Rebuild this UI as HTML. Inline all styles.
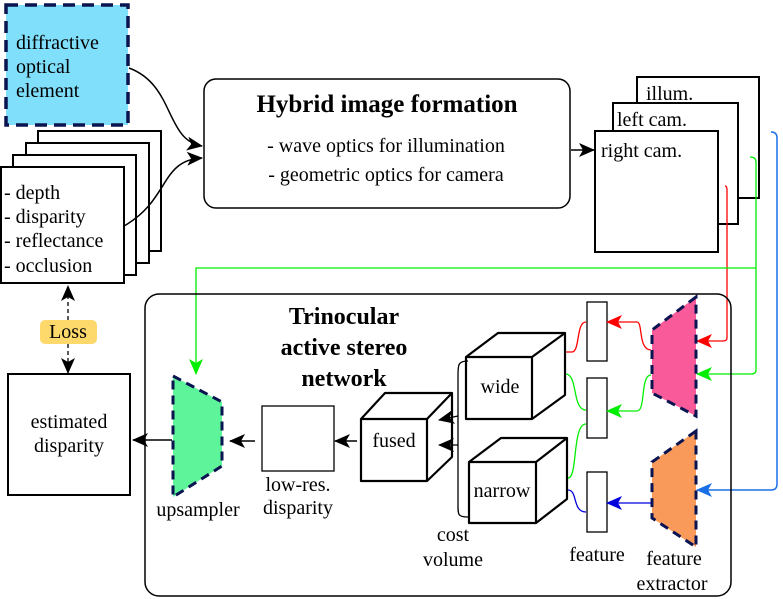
<!DOCTYPE html>
<html><head><meta charset="utf-8"><style>
html,body{margin:0;padding:0;background:#fff;}
svg{display:block;}
svg text{font-family:"Liberation Serif","DejaVu Serif",serif;}
</style></head><body>
<svg width="783" height="599" viewBox="0 0 783 599" xmlns="http://www.w3.org/2000/svg" font-family="Liberation Serif, DejaVu Serif, serif">
<defs>
<marker id="ak" markerWidth="16" markerHeight="14" refX="15" refY="7" orient="auto" markerUnits="userSpaceOnUse"><path d="M0,0 L16,7 L0,14 L4,7 Z" fill="#000"/></marker>
<marker id="ar" markerWidth="16" markerHeight="14" refX="15" refY="7" orient="auto" markerUnits="userSpaceOnUse"><path d="M0,0 L16,7 L0,14 L4,7 Z" fill="#f00"/></marker>
<marker id="ag" markerWidth="16" markerHeight="14" refX="15" refY="7" orient="auto" markerUnits="userSpaceOnUse"><path d="M0,0 L16,7 L0,14 L4,7 Z" fill="#0e0"/></marker>
<marker id="ab" markerWidth="16" markerHeight="14" refX="15" refY="7" orient="auto" markerUnits="userSpaceOnUse"><path d="M0,0 L16,7 L0,14 L4,7 Z" fill="#00d"/></marker>
<marker id="al" markerWidth="16" markerHeight="14" refX="15" refY="7" orient="auto" markerUnits="userSpaceOnUse"><path d="M0,0 L16,7 L0,14 L4,7 Z" fill="#1a6fe8"/></marker>
</defs>

<rect x="6" y="5" width="122" height="120" fill="#80dffb" stroke="#0a1450" stroke-width="3.5" stroke-dasharray="12,7"/>
<text x="16" y="49" font-size="20">diffractive</text>
<text x="16" y="73" font-size="20">optical</text>
<text x="16" y="97" font-size="20">element</text>

<rect x="38" y="131" width="123" height="120" fill="#fff" stroke="#000" stroke-width="2"/>
<rect x="26" y="143" width="123" height="120" fill="#fff" stroke="#000" stroke-width="2"/>
<rect x="13" y="155" width="123" height="120" fill="#fff" stroke="#000" stroke-width="2"/>
<rect x="1" y="167" width="123" height="116" fill="#fff" stroke="#000" stroke-width="2"/>
<g font-size="20"><text x="4" y="199">- depth</text><text x="4" y="223">- disparity</text><text x="4" y="247">- reflectance</text><text x="4" y="272">- occlusion</text></g>

<path d="M129,68 C175,85 165,140 202,146" fill="none" stroke="#000" stroke-width="1.5" marker-end="url(#ak)"/>
<path d="M124,226 C170,200 160,160 202,158" fill="none" stroke="#000" stroke-width="1.5" marker-end="url(#ak)"/>

<rect x="204" y="79" width="366" height="129" rx="12" fill="#fff" stroke="#000" stroke-width="1.5"/>
<text x="387" y="112" font-size="25" font-weight="bold" text-anchor="middle">Hybrid image formation</text>
<text x="386" y="152" font-size="20" text-anchor="middle">- wave optics for illumination</text>
<text x="386" y="181" font-size="20" text-anchor="middle">- geometric optics for camera</text>
<line x1="571" y1="150" x2="594" y2="150" stroke="#000" stroke-width="1.5" marker-end="url(#ak)"/>

<rect x="637" y="77" width="122" height="121" fill="#fff" stroke="#000" stroke-width="2"/>
<text x="646" y="100" font-size="20">illum.</text>
<rect x="613" y="103" width="125" height="121" fill="#fff" stroke="#000" stroke-width="2"/>
<text x="617" y="126" font-size="20">left cam.</text>
<rect x="595" y="131" width="123" height="121" fill="#fff" stroke="#000" stroke-width="2"/>
<text x="601" y="157" font-size="20">right cam.</text>

<path d="M725,186 Q727,186 727,190 L727,338 Q727,341 723,341 L697,341" fill="none" stroke="#f00" stroke-width="1.3" marker-end="url(#ar)"/>
<path d="M750,157 Q756,157 756,162 L756,370 Q756,374 751,374 L697,374" fill="none" stroke="#0e0" stroke-width="1.3" marker-end="url(#ag)"/>
<path d="M756,268 L196,268 L196,374" fill="none" stroke="#0e0" stroke-width="1.3" marker-end="url(#ag)"/>
<path d="M771,132 Q777,132 777,138 L777,484 Q777,490 771,490 L697,490" fill="none" stroke="#1a6fe8" stroke-width="1.5" marker-end="url(#al)"/>

<rect x="145" y="294" width="586" height="302" rx="14" fill="none" stroke="#000" stroke-width="1.5"/>
<g font-size="24" font-weight="bold" text-anchor="middle"><text x="344" y="324">Trinocular</text><text x="344" y="355">active stereo</text><text x="344" y="386">network</text></g>

<polygon points="696,297 652,330 652,393 696,416" fill="#f95a9a" stroke="#0a1450" stroke-width="3" stroke-dasharray="9,6"/>
<polygon points="696,431 652,462 652,518 696,547" fill="#fa9a5a" stroke="#0a1450" stroke-width="3" stroke-dasharray="9,6"/>
<text x="674" y="565" font-size="20" text-anchor="middle">feature</text>
<text x="672" y="590" font-size="20" text-anchor="middle">extractor</text>

<rect x="587" y="302" width="20" height="59" fill="#fff" stroke="#000" stroke-width="1.3"/>
<rect x="587" y="378" width="20" height="60" fill="#fff" stroke="#000" stroke-width="1.3"/>
<rect x="587" y="472" width="20" height="60" fill="#fff" stroke="#000" stroke-width="1.3"/>
<text x="597" y="561" font-size="20" text-anchor="middle">feature</text>

<path d="M651,350 C638,350 643,322 637,322 L607,322" fill="none" stroke="#f00" stroke-width="1.3" marker-end="url(#ar)"/>
<path d="M651,375 C640,375 646,411 637,411 L607,411" fill="none" stroke="#0e0" stroke-width="1.3" marker-end="url(#ag)"/>
<path d="M651,503 L607,503" fill="none" stroke="#00d" stroke-width="1.3" marker-end="url(#ab)"/>
<path d="M586,322 C576,322 580,352 572,352 L548,352" fill="none" stroke="#f00" stroke-width="1.3" marker-end="url(#ar)"/>
<path d="M586,410 C572,410 578,375 566,374 L548,374" fill="none" stroke="#0e0" stroke-width="1.3" marker-end="url(#ag)"/>
<path d="M586,424 C572,424 578,478 568,478 L551,478" fill="none" stroke="#0e0" stroke-width="1.3" marker-end="url(#ag)"/>
<path d="M586,512 C572,512 578,490 568,490 L549,490" fill="none" stroke="#00d" stroke-width="1.3" marker-end="url(#ab)"/>

<g fill="#fff" stroke="#000" stroke-width="2.2" stroke-linejoin="round">
<polygon points="466,357 498,333 565,333 565,395 532,419 466,419"/>
<path d="M466,357 L532,357 L565,333 M532,357 L532,419" fill="none"/>
<polygon points="469,462 501,438 567,438 567,499 536,523 469,523"/>
<path d="M469,462 L536,462 L567,438 M536,462 L536,523" fill="none"/>
<polygon points="361,419 385,393 452,393 452,457 427,481 361,481"/>
<path d="M361,419 L427,419 L452,393 M427,419 L427,481" fill="none"/>
</g>
<text x="500" y="393" font-size="20" text-anchor="middle">wide</text>
<text x="502" y="497" font-size="20" text-anchor="middle">narrow</text>
<text x="394" y="447" font-size="20" text-anchor="middle">fused</text>
<path d="M468,361 C458,361 458,365 458,375 L458,505 C458,515 458,517 468,517" fill="none" stroke="#000" stroke-width="1.3"/>
<line x1="458" y1="416" x2="439" y2="420" stroke="#000" stroke-width="1.3" marker-end="url(#ak)"/>
<line x1="458" y1="445" x2="439" y2="445" stroke="#000" stroke-width="1.3" marker-end="url(#ak)"/>
<text x="453" y="541" font-size="20" text-anchor="middle">cost</text>
<text x="453" y="566" font-size="20" text-anchor="middle">volume</text>

<rect x="262" y="406" width="72" height="65" fill="#fff" stroke="#000" stroke-width="1.3"/>
<line x1="357" y1="441" x2="335" y2="441" stroke="#000" stroke-width="1.5" marker-end="url(#ak)"/>
<text x="298" y="491" font-size="20" text-anchor="middle">low-res.</text>
<text x="298" y="514" font-size="20" text-anchor="middle">disparity</text>
<line x1="255" y1="441" x2="230" y2="441" stroke="#000" stroke-width="1.5" marker-end="url(#ak)"/>

<polygon points="173,376 222,402 222,466 173,497" fill="#5ef49a" stroke="#0a1450" stroke-width="3" stroke-dasharray="9,6"/>
<text x="198" y="516" font-size="20" text-anchor="middle">upsampler</text>
<line x1="172" y1="440" x2="133" y2="440" stroke="#000" stroke-width="1.5" marker-end="url(#ak)"/>

<rect x="8" y="374" width="122" height="121" fill="#fff" stroke="#000" stroke-width="2"/>
<text x="69" y="428" font-size="20" text-anchor="middle">estimated</text>
<text x="69" y="452" font-size="20" text-anchor="middle">disparity</text>

<line x1="68" y1="320" x2="68" y2="286" stroke="#000" stroke-width="1.3" stroke-dasharray="4,3" marker-end="url(#ak)"/>
<line x1="68" y1="344" x2="68" y2="373" stroke="#000" stroke-width="1.3" stroke-dasharray="4,3" marker-end="url(#ak)"/>
<rect x="40" y="320" width="57" height="24" rx="5" fill="#fdd96b"/>
<text x="68" y="338" font-size="20" text-anchor="middle">Loss</text>
</svg>
</body></html>
